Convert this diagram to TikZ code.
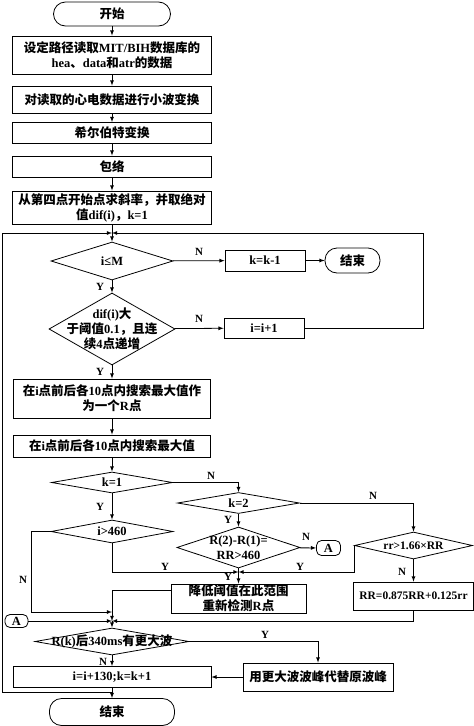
\documentclass[tikz,border=0pt]{standalone}
\usepackage{fontspec}
\setmainfont{Liberation Serif}
\newfontfamily\cjk{Noto Sans CJK SC}
\usetikzlibrary{arrows,shapes,positioning,calc}

% Chinese characters switch to the CJK font by themselves
\XeTeXinterchartokenstate=1
\chardef\hanclass=7
\count255="3000
\loop\XeTeXcharclass\count255=\hanclass
  \ifnum\count255<"9FFF \advance\count255 by 1 \repeat
\count255="FF00
\loop\XeTeXcharclass\count255=\hanclass
  \ifnum\count255<"FFEF \advance\count255 by 1 \repeat
\XeTeXinterchartoks 0 \hanclass={\begingroup\cjk}
\XeTeXinterchartoks 4095 \hanclass={\begingroup\cjk}
\XeTeXinterchartoks \hanclass 0={\endgroup}
\XeTeXinterchartoks \hanclass 4095={\endgroup}

\begin{document}
\begin{tikzpicture}[x=1pt,y=-1pt,line width=0.8pt,>=latex,
    every node/.style={font=\bfseries\fontsize{12.5}{15}\selectfont},
    box/.style={draw,rectangle,inner sep=0pt,align=center},
    term/.style={draw,rectangle,rounded corners=12pt,inner sep=0pt},
    conn/.style={draw,rectangle,rounded corners=5pt,inner sep=0pt},
    dia/.style={draw,diamond,inner sep=0pt},
    yn/.style={font=\bfseries\fontsize{11}{13}\selectfont,inner sep=1pt}]
  \useasboundingbox (0,0) rectangle (474,726);
  % main column
  \node[term,minimum width=117,minimum height=24] (start) at (112,14) {开始};
  \node[box,minimum width=199,minimum height=38] (read) at (112,55) {设定路径读取MIT/BIH数据库的\\hea、data和atr的数据};
  \node[box,minimum width=199,minimum height=27] (wave) at (112,99.5) {对读取的心电数据进行小波变换};
  \node[box,minimum width=199,minimum height=21] (hilb) at (112,133) {希尔伯特变换};
  \node[box,minimum width=199,minimum height=21] (env) at (112,166.5) {包络};
  \node[box,minimum width=199,minimum height=33] (slope) at (112,207.5) {从第四点开始点求斜率，并取绝对\\值dif(i)，k=1};
  \coordinate (top) at (112,233);
  \coordinate (rtop) at (423,233);
  \node[dia,minimum width=122,minimum height=38] (lt) at (112,261) {};
  \node (ltt) at (lt) {i≤M};
  \node[box,minimum width=80,minimum height=21] (dec) at (265,260.5) {k=k-1};
  \node[term,minimum width=55,minimum height=25] (stop1) at (352.5,260.5) {结束};
  \node[dia,minimum width=126,minimum height=72] (dif) at (112,329) {};
  \node[align=center] (dift) at (dif) {dif(i)大\\于阈值0.1，且连\\续4点递增};
  \node[box,minimum width=80,minimum height=20] (inc) at (264,328) {i=i+1};
  \node[box,minimum width=197,minimum height=39] (peak) at (112,398.5) {在i点前后各10点内搜索最大值作\\为一个R点};
  \node[box,minimum width=197,minimum height=22] (maxv) at (112,446) {在i点前后各10点内搜索最大值};
  % branches on k
  \node[dia,minimum width=121,minimum height=21] (kone) at (112,482.5) {};
  \node (konet) at (kone) {k=1};
  \node[dia,minimum width=122,minimum height=21] (ktwo) at (238.5,503) {};
  \node (ktwot) at (ktwo) {k=2};
  \node[dia,minimum width=122,minimum height=23] (gt) at (112,531.5) {};
  \node (gtt) at (gt) {i>460};
  \node[dia,minimum width=123,minimum height=41] (rdif) at (238.5,547.5) {};
  \node[align=center] (rdift) at (rdif) {R(2)-R(1)=\\RR>460};
  \node[conn,minimum width=24,minimum height=15] (aone) at (328.5,548) {A};
  \node[dia,minimum width=118,minimum height=27] (rr) at (413.5,545.5) {};
  \node[font=\bfseries\fontsize{11.5}{13}\selectfont] (rrt) at (rr) {rr>1.66×RR};
  \node[box,minimum width=120,minimum height=28,font=\bfseries\fontsize{11.5}{13}\selectfont] (upd) at (413.5,596) {RR=0.875RR+0.125rr};
  \coordinate (mid) at (238.5,572);
  \node[box,minimum width=135,minimum height=29] (low) at (238.5,598.5) {降低阈值在此范围\\重新检测R点};
  \coordinate (nj) at (112,612);
  \coordinate (join) at (112,621);
  \node[conn,minimum width=23,minimum height=13] (atwo) at (16.5,621) {A};
  % last steps
  \node[dia,minimum width=154,minimum height=27] (big) at (112,641.5) {};
  \node (bigt) at (big) {R(k)后340ms有更大波};
  \node[box,minimum width=150,minimum height=28] (repl) at (318,677) {用更大波波峰代替原波峰};
  \node[box,minimum width=198,minimum height=21] (next) at (112,677) {i=i+130;k=k+1};
  \coordinate (bot) at (112,692);
  \node[term,minimum width=125,minimum height=27] (stop2) at (112,712) {结束};
  % Y / N labels
  \node[yn] (n1) at (199,252) {N};
  \node[yn] (y1) at (100,287) {Y};
  \node[yn] (n2) at (199,319) {N};
  \node[yn] (y2) at (100,372) {Y};
  \node[yn] (n3) at (211,476) {N};
  \node[yn] (y3) at (100,507) {Y};
  \node[yn] (n4) at (373,496) {N};
  \node[yn] (y4) at (228,520) {Y};
  \node[yn] (n5) at (306,537) {N};
  \node[yn] (y5) at (165,567) {Y};
  \node[yn] (y6) at (300,567) {Y};
  \node[yn] (y7) at (228,577) {Y};
  \node[yn] (n6) at (402,572) {N};
  \node[yn] (n7) at (23,580) {N};
  \node[yn] (y8) at (265,635) {Y};
  \node[yn] (n8) at (103,662) {N};
  % arrows
  \draw[->] (start) -- (read);
  \draw[->] (read) -- (wave);
  \draw[->] (wave) -- (hilb);
  \draw[->] (hilb) -- (env);
  \draw[->] (env) -- (slope);
  \draw[->] (slope) -- (lt);
  \draw[->] (lt) -- (dec);
  \draw[->] (dec) -- (stop1);
  \draw[->] (lt) -- (dif);
  \draw[->] (dif) -- (inc);
  \draw[->] (inc) -| (rtop) -- (top);
  \draw[->] (dif) -- (peak);
  \draw[->] (peak) -- (maxv);
  \draw[->] (maxv) -- (kone);
  \draw[->] (kone) -| (ktwo);
  \draw[->] (ktwo) -| (rr);
  \draw[->] (kone) -- (gt);
  \draw[->] (ktwo) -- (rdif);
  \draw[->] (rdif) -- (aone);
  \draw[->] (rr) -- (upd);
  \draw[->] (gt) |- (mid);
  \draw[->] (rr.west) |- (mid);
  \draw[->] (rdif) -- (low);
  \draw[->] (gt.west) -- ++(-19,0) |- (nj);
  \draw[->] ([yshift=8pt]low.west) -| (join);
  \draw[->] (atwo) -- (join);
  \draw[->] (upd) |- (join);
  \draw[->] (join) -- (big);
  \draw[->] (big) -| (repl);
  \draw[->] (repl) -- (next);
  \draw[->] (big) -- (next);
  \draw[->] (next) -- (stop2);
  \draw[->] (bot) -- (2,692) -- (2,233) -- (top);
\end{tikzpicture}
\end{document}
